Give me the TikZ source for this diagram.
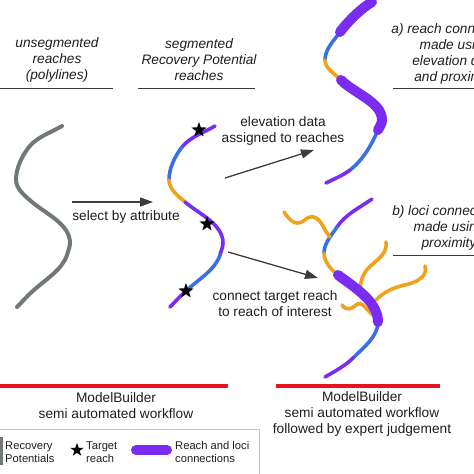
\documentclass[tikz,border=0pt]{standalone}
\usepackage{fontspec}
\setmainfont{Liberation Sans}
\usetikzlibrary{arrows.meta,shapes.geometric}

\definecolor{rpPurple}{RGB}{122,44,240}
\definecolor{rpBlue}{RGB}{58,112,228}
\definecolor{rpOrange}{RGB}{240,162,30}
\definecolor{rpGray}{RGB}{112,120,120}
\definecolor{rpRed}{RGB}{232,18,30}
\definecolor{inkGray}{RGB}{60,60,60}
\definecolor{txt}{RGB}{30,30,30}

\begin{document}
\begin{tikzpicture}[x=1pt,y=-1pt,
    reach/.style={line width=3.6pt,line cap=round},
    fatreach/.style={line width=10pt,line cap=round,rpPurple},
    flow/.style={line width=1.3pt,inkGray,-{Triangle[length=13pt,width=9pt]}},
    lbl/.style={text=txt,align=center,inner sep=0pt,font=\fontsize{13.7}{16}\selectfont},
    hdr/.style={lbl,font=\fontsize{13.7}{16}\selectfont\itshape},
    keytext/.style={text=txt,align=left,anchor=west,inner sep=0pt,font=\fontsize{11.2}{13.6}\selectfont},
    rule/.style={line width=0.9pt,inkGray},
    wfbar/.style={line width=4.5pt,rpRed},
    target/.style={star,star points=5,star point ratio=2.5,fill=black,inner sep=0pt,minimum size=16pt}]
    \clip (0,0) rectangle (474,474);

    % Column headers
    \node[hdr] (hUnseg) at (57,60) {unsegmented\\reaches\\(polylines)};
    \node[hdr] (hSeg) at (199,60) {segmented\\Recovery Potential\\reaches};
    \node[hdr] (hA) at (455,54) {a) reach connections\\made using\\elevation data\\and proximity};
    \node[hdr] (hB) at (449,228) {b) loci connections\\made using\\proximity};
    \draw[rule] (0,88) -- (113,88);
    \draw[rule] (138,88) -- (255,88);
    \draw[rule] (393,88) -- (474,88);
    \draw[rule] (393,255) -- (474,255);

    % Unsegmented reach (polyline)
    \draw[reach,line width=4pt,rpGray,shift={(-153,0)}] (215,126) .. controls (204,132.5) and (190,137) .. (182,147)
        .. controls (175,156) and (169,168) .. (169,180) .. controls (169,189) and (178,196) .. (185,202)
        .. controls (199,214) and (223,224) .. (223,243) .. controls (223,247) and (221,251) .. (220,255)
        .. controls (215,270) and (199,279) .. (187,290) .. controls (181,295) and (176,301) .. (170,307);

    % Segmented Recovery Potential reaches
    \draw[reach,rpPurple] (215,126) .. controls (204,132.5) and (190,137) .. (182,147);
    \draw[reach,rpBlue] (182,147) .. controls (175,156) and (169,168) .. (169,180);
    \draw[reach,rpOrange] (169,180) .. controls (169,189) and (178,196) .. (185,202);
    \draw[reach,rpPurple] (185,202) .. controls (199,214) and (223,224) .. (223,243)
        .. controls (223,247) and (221,251) .. (220,255);
    \draw[reach,rpBlue] (220,255) .. controls (215,270) and (199,279) .. (187,290);
    \draw[reach,rpPurple] (187,290) .. controls (181,295) and (176,301) .. (170,307);
    \node[target] (star1) at (199,130) {};
    \node[target] (star2) at (207,224) {};
    \node[target] (star3) at (186,291) {};

    % a) connections by elevation and proximity
    \draw[reach,rpBlue] (340,32) .. controls (334,40.5) and (325,49) .. (325,60);
    \draw[reach,rpOrange] (325,60) .. controls (325,68.5) and (335,74) .. (341,80);
    \draw[reach,rpBlue] (378,130) .. controls (371.5,145) and (363,160) .. (350,170);
    \draw[reach,rpPurple] (350,170) .. controls (343,175.4) and (334,179) .. (326,183);
    \draw[fatreach] (372,2) .. controls (362,8) and (350,19) .. (340,32);
    \draw[fatreach] (341,80) .. controls (355,94) and (382,102) .. (382,120)
        .. controls (382,123.6) and (379.5,127) .. (378,130);

    % b) loci connections by proximity
    \draw[reach,rpPurple] (372,199) .. controls (360,207.5) and (345,214.6) .. (337,227);
    \draw[reach,rpBlue] (337,227) .. controls (331.7,235) and (324,243.3) .. (324,253);
    \draw[reach,rpOrange] (324,253) .. controls (324,261.7) and (331,269.8) .. (338,275);
    \draw[reach,rpBlue] (378,322) .. controls (378,336.6) and (363.3,347.7) .. (353,358);
    \draw[reach,rpPurple] (353,358) .. controls (345,366) and (334.6,371.4) .. (325,377);
    \draw[reach,rpOrange] (284,212) .. controls (292,224) and (298,226) .. (306,219)
        .. controls (314,213) and (320,220) .. (324,228) .. controls (326,232) and (328,234) .. (330,237);
    \draw[reach,rpOrange] (386,242) .. controls (388,258) and (370,262) .. (364,274)
        .. controls (360,282) and (360,288) .. (361,293);
    \draw[reach,rpOrange] (425,266) .. controls (428,276) and (418,282) .. (405,285)
        .. controls (392,288) and (384,292) .. (376,300);
    \draw[reach,rpOrange] (342,305) .. controls (346,311) and (352,309) .. (356,305)
        .. controls (362,300) and (366,310) .. (374,316);
    \draw[fatreach] (338,275) .. controls (354.5,287.4) and (378,301.4) .. (378,322);

    % Workflow arrows
    \coordinate (selFrom) at (72,202);
    \coordinate (selTo) at (153,202);
    \draw[flow] (selFrom) -- (selTo);
    \node[lbl] (selLbl) at (126,217) {select by attribute};
    \coordinate (elevFrom) at (225,178);
    \coordinate (elevTo) at (314,150);
    \draw[flow] (elevFrom) -- (elevTo);
    \node[lbl] (elevLbl) at (283,130.5) {elevation data\\assigned to reaches};
    \coordinate (connFrom) at (228,252);
    \coordinate (connTo) at (318,278);
    \draw[flow] (connFrom) -- (connTo);
    \node[lbl] (connLbl) at (275,304) {connect target reach\\to reach of interest};

    % Workflow bars
    \draw[wfbar] (0,386) -- (228,386);
    \draw[wfbar] (276,386) -- (440,386);
    \node[lbl] (wfLeft) at (116,406) {ModelBuilder\\semi automated workflow};
    \node[lbl] (wfRight) at (362,414) {ModelBuilder\\semi automated workflow\\followed by expert judgement};

    % Legend
    \draw[line width=0.8pt,black!22] (-2,429) rectangle (259,480);
    \draw[reach,line width=4pt,rpGray,line cap=butt] (1,437) -- (1,465);
    \node[keytext] (kRP) at (5,452) {Recovery\\Potentials};
    \node[target,minimum size=14pt] (kStar) at (77,450) {};
    \node[keytext] (kTR) at (86,452) {Target\\reach};
    \draw[fatreach] (136,450) -- (167,450);
    \node[keytext] (kRL) at (175,452) {Reach and loci\\connections};
\end{tikzpicture}
\end{document}
